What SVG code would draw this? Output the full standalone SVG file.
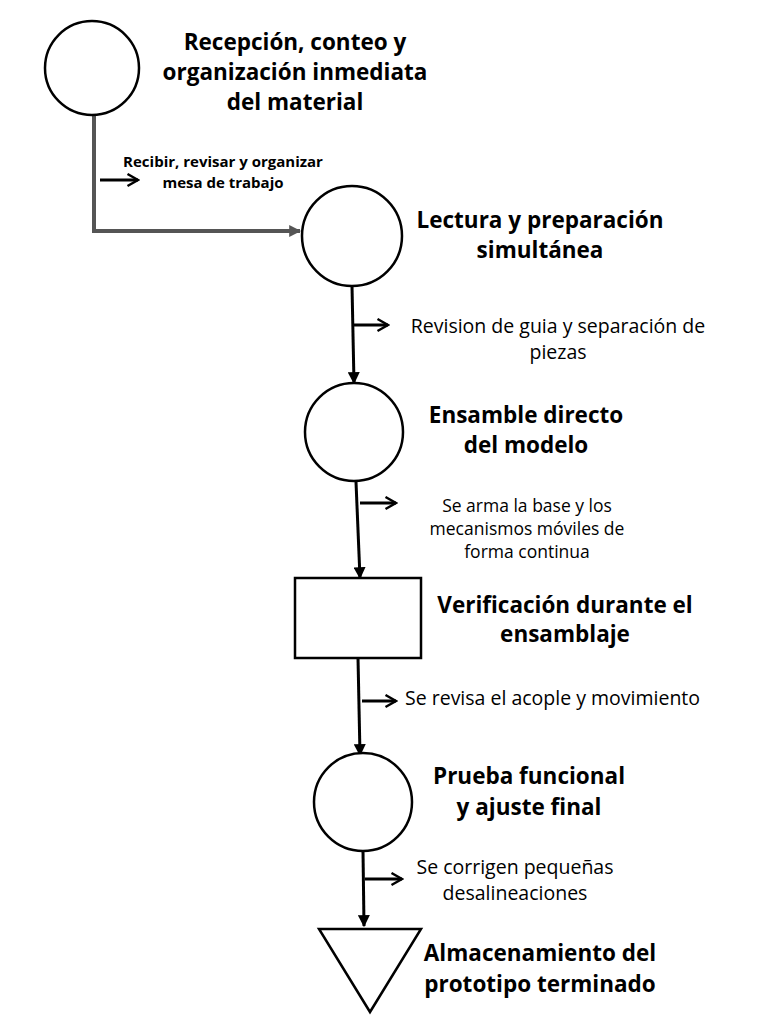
<svg xmlns="http://www.w3.org/2000/svg" width="768" height="1024" viewBox="0 0 768 1024">
<style>
.n{fill:#fff;stroke:#000;stroke-width:2.5}
.t{font-family:"Open Sans",sans-serif;font-weight:bold;font-size:22.5px;fill:#000;text-anchor:middle}
.s{font-family:"Open Sans",sans-serif;font-size:19.5px;fill:#000;text-anchor:middle}
.c{stroke:#000;stroke-width:3;fill:none}
</style>
<defs>
<marker id="a" viewBox="0 0 10 10" refX="9" refY="5" markerWidth="4" markerHeight="4" orient="auto"><path d="M0,0L10,5L0,10z" fill="#000"/></marker>
<marker id="g" viewBox="0 0 10 10" refX="9" refY="5" markerWidth="3" markerHeight="3" orient="auto"><path d="M0,0L10,5L0,10z" fill="#555"/></marker>
<marker id="o" viewBox="0 0 10 10" refX="9" refY="5" markerWidth="5" markerHeight="5" orient="auto"><path d="M2,1L9,5L2,9" fill="none" stroke="#000" stroke-width="1.6"/></marker>
</defs>
<rect width="768" height="1024" fill="#fff"/>
<g id="connectors">
<path d="M94,115V231H300" stroke="#555" stroke-width="4" fill="none" marker-end="url(#g)"/>
<path class="c" d="M100,180H138" marker-end="url(#o)" stroke-width="2.5"/>
<path class="c" d="M352,286L354,383" marker-end="url(#a)"/>
<path class="c" d="M354,325H388" marker-end="url(#o)" stroke-width="2.5"/>
<path class="c" d="M356,482L360,578" marker-end="url(#a)"/>
<path class="c" d="M360,503H396" marker-end="url(#o)" stroke-width="2.5"/>
<path class="c" d="M358,658L360,755" marker-end="url(#a)"/>
<path class="c" d="M362,701H396" marker-end="url(#o)" stroke-width="2.5"/>
<path class="c" d="M363,851L364,926" marker-end="url(#a)"/>
<path class="c" d="M365,879H402" marker-end="url(#o)" stroke-width="2.5"/>
<text class="t" x="223" y="167" style="font-size:15px">Recibir, revisar y organizar</text>
<text class="t" x="223" y="188" style="font-size:15px">mesa de trabajo</text>
<text class="s" x="558" y="333">Revision de guia y separación de</text>
<text class="s" x="558" y="359">piezas</text>
<text class="s" x="527" y="512" style="font-size:17.5px">Se arma la base y los</text>
<text class="s" x="527" y="535" style="font-size:17.5px">mecanismos móviles de</text>
<text class="s" x="527" y="558" style="font-size:17.5px">forma continua</text>
<text class="s" x="405" y="705" style="text-anchor:start">Se revisa el acople y movimiento</text>
<text class="s" x="515" y="874">Se corrigen pequeñas</text>
<text class="s" x="515" y="900">desalineaciones</text>
</g>
<g id="n1"><circle class="n" cx="92" cy="68" r="47"/>
<text class="t" x="295" y="50">Recepción, conteo y</text><text class="t" x="295" y="80">organización inmediata</text><text class="t" x="295" y="110">del material</text></g>
<g id="n2"><circle class="n" cx="352" cy="236" r="50"/>
<text class="t" x="540" y="228">Lectura y preparación</text><text class="t" x="540" y="258">simultánea</text></g>
<g id="n3"><circle class="n" cx="354" cy="432" r="49"/>
<text class="t" x="526" y="423">Ensamble directo</text><text class="t" x="526" y="453">del modelo</text></g>
<g id="n4"><rect class="n" x="295" y="578" width="126" height="80"/>
<text class="t" x="565" y="613">Verificación durante el</text><text class="t" x="565" y="642">ensamblaje</text></g>
<g id="n5"><circle class="n" cx="363" cy="802" r="49"/>
<text class="t" x="529" y="784">Prueba funcional</text><text class="t" x="529" y="815">y ajuste final</text></g>
<g id="n6"><polygon class="n" points="319,929 421,929 370,1012"/>
<text class="t" x="540" y="961">Almacenamiento del</text><text class="t" x="540" y="992">prototipo terminado</text></g>
</svg>
